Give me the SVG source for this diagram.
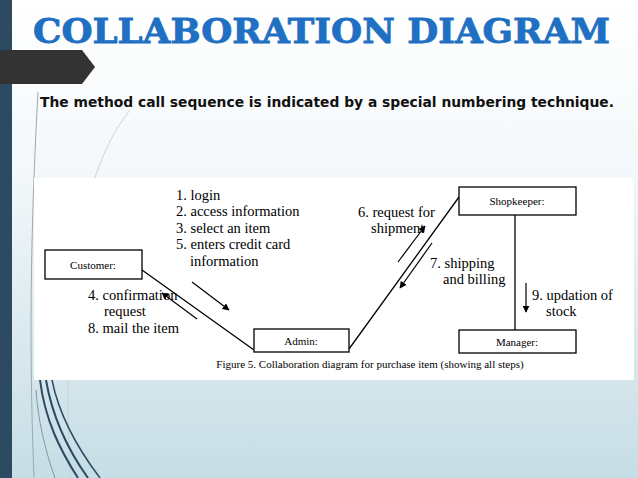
<svg xmlns="http://www.w3.org/2000/svg" width="638" height="478" viewBox="0 0 638 478">
<defs>
<linearGradient id="bg" x1="0" y1="0" x2="0" y2="1"><stop offset="0" stop-color="#ffffff"/><stop offset="0.35" stop-color="#f4f8fa"/><stop offset="1" stop-color="#c6dde5"/></linearGradient>
<marker id="ah" viewBox="0 0 10 10" refX="9" refY="5" markerWidth="7" markerHeight="7" orient="auto" markerUnits="userSpaceOnUse"><path d="M0,0 L10,5 L0,10 z" fill="#000"/></marker>
</defs>
<style>
.box{fill:#fff;stroke:#000;stroke-width:1.3}
.bl{font-family:"Liberation Serif",serif;font-size:11px;fill:#000;text-anchor:middle}
.lb{font-family:"Liberation Serif",serif;font-size:14.5px;fill:#000}
.ln{stroke:#000;stroke-width:1.3;fill:none}
.ar{stroke:#000;stroke-width:1.2;fill:none;marker-end:url(#ah)}
</style>
<rect width="638" height="478" fill="url(#bg)"/>
<rect x="0" y="0" width="12" height="478" fill="#2c4b62"/>
<g fill="none">
<path d="M38,92 C32,200 28,330 34,478" stroke="#9aa9b2" stroke-width="1"/>
<path d="M130,110 C90,160 60,260 70,478" stroke="#c9d3d8" stroke-width="1"/>
<path d="M40,380 C45,420 60,450 78,478" stroke="#2c4b62" stroke-width="2"/>
<path d="M46,380 C52,415 68,450 88,478" stroke="#2c4b62" stroke-width="2"/>
<path d="M52,380 C58,410 75,445 100,478" stroke="#2c4b62" stroke-width="1.5"/>
<path d="M36,390 C38,420 45,450 55,478" stroke="#7f98a8" stroke-width="1"/>
</g>
<path d="M0,50 L82,50 L95,67 L82,84 L0,84 z" fill="#333"/>
<text x="33" y="43" font-family="DejaVu Serif,serif" font-weight="bold" font-size="34" fill="#1f6fc2" stroke="#1f6fc2" stroke-width="0.8" textLength="577" lengthAdjust="spacingAndGlyphs">COLLABORATION DIAGRAM</text>
<text x="40" y="107" font-family="DejaVu Sans,sans-serif" font-weight="bold" font-size="14" fill="#111" textLength="574" lengthAdjust="spacingAndGlyphs">The method call sequence is indicated by a special numbering technique.</text>
<rect x="34" y="178" width="600" height="202" fill="#fff"/>
<g id="connectors">
<path class="ln" d="M142,270 L254,350"/>
<path class="ln" d="M349,349 L459,197"/>
<path class="ln" d="M515,215 L515,330"/>
<path class="ar" d="M192,282 L229,310"/>
<path class="ar" d="M197,319 L162,293"/>
<path class="ar" d="M398,262 L425,226"/>
<path class="ar" d="M432,243 L400,288"/>
<path class="ar" d="M526,283 L526,312"/>
</g>
<g id="customer"><rect class="box" x="45" y="250" width="97" height="29"/><text class="bl" x="93" y="269">Customer:</text></g>
<g id="admin"><rect class="box" x="254" y="329" width="95" height="23"/><text class="bl" x="301" y="345">Admin:</text></g>
<g id="shopkeeper"><rect class="box" x="459" y="187" width="117" height="28"/><text class="bl" x="517" y="205">Shopkeeper:</text></g>
<g id="manager"><rect class="box" x="459" y="330" width="117" height="23"/><text class="bl" x="517" y="346">Manager:</text></g>
<g id="labels">
<text class="lb" x="176" y="200">1. login</text>
<text class="lb" x="176" y="216">2. access information</text>
<text class="lb" x="176" y="233">3. select an item</text>
<text class="lb" x="176" y="249">5. enters credit card</text>
<text class="lb" x="190" y="266">information</text>
<text class="lb" x="88" y="300">4. confirmation</text>
<text class="lb" x="104" y="316">request</text>
<text class="lb" x="88" y="333">8. mail the item</text>
<text class="lb" x="358" y="217">6. request for</text>
<text class="lb" x="371" y="233">shipment</text>
<text class="lb" x="430" y="268">7. shipping</text>
<text class="lb" x="443" y="284">and billing</text>
<text class="lb" x="532" y="300">9. updation of</text>
<text class="lb" x="546" y="316">stock</text>
<text class="bl" x="370" y="368" font-size="11.5">Figure 5. Collaboration diagram for purchase item (showing all steps)</text>
</g>
</svg>
